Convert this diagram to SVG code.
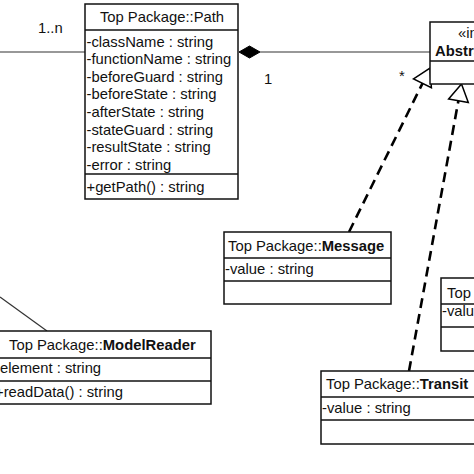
<svg xmlns="http://www.w3.org/2000/svg" width="474" height="474" viewBox="0 0 474 474">
<style>
.box{fill:#fff;stroke:#111;stroke-width:1.5}
.div{stroke:#111;stroke-width:1.5}
.t{font-family:"Liberation Sans",Arial,sans-serif;font-size:14.8px;fill:#111}
.b{font-weight:bold}
.assoc{stroke:#333;stroke-width:1.2;fill:none}
.dash{stroke:#000;stroke-width:2.6;fill:none;stroke-dasharray:10 6}
.tri{fill:#fff;stroke:#000;stroke-width:1.5}
</style>
<rect width="474" height="474" fill="#fff"/>
<g id="connectors">
<line class="assoc" x1="0" y1="52" x2="85" y2="52"/>
<text class="t" x="38" y="33">1..n</text>
<line class="assoc" x1="260" y1="52" x2="430" y2="52"/>
<polygon points="239,52 249.5,46 260,52 249.5,58" fill="#000" stroke="#000" stroke-width="1"/>
<text class="t" x="264" y="84">1</text>
<text class="t" x="399" y="81">*</text>
<line class="assoc" x1="47" y1="331" x2="0" y2="297"/>
<line class="dash" x1="349" y1="232" x2="422.5" y2="83.3"/>
<polygon class="tri" points="430,68 431.4,87.7 413.5,78.8"/>
<line class="dash" x1="409" y1="371" x2="458.4" y2="100.7"/>
<polygon class="tri" points="461.5,84 468.3,102.5 448.6,98.9"/>
</g>
<g id="path">
<rect class="box" x="85" y="4" width="153" height="195"/>
<line class="div" x1="85" y1="30" x2="238" y2="30"/>
<line class="div" x1="85" y1="174" x2="238" y2="174"/>
<text class="t" x="162" y="22" text-anchor="middle">Top Package::Path</text>
<text class="t" x="86.5" y="46.5">-className : string</text>
<text class="t" x="86.5" y="64.1">-functionName : string</text>
<text class="t" x="86.5" y="81.7">-beforeGuard : string</text>
<text class="t" x="86.5" y="99.3">-beforeState : string</text>
<text class="t" x="86.5" y="116.9">-afterState : string</text>
<text class="t" x="86.5" y="134.5">-stateGuard : string</text>
<text class="t" x="86.5" y="152.1">-resultState : string</text>
<text class="t" x="86.5" y="169.7">-error : string</text>
<text class="t" x="86.5" y="191.5">+getPath() : string</text>
</g>
<g id="abstract">
<rect class="box" x="430" y="22" width="60" height="62"/>
<line class="div" x1="430" y1="61" x2="490" y2="61"/>
<text class="t" x="458" y="37.5">«interface»</text>
<text class="t b" x="435" y="55.5">Abstract</text>
</g>
<g id="message">
<rect class="box" x="224" y="232" width="167" height="72"/>
<line class="div" x1="224" y1="258" x2="391" y2="258"/>
<line class="div" x1="224" y1="281" x2="391" y2="281"/>
<text class="t" x="228" y="250.5">Top Package::<tspan class="b">Message</tspan></text>
<text class="t" x="225" y="273.5">-value : string</text>
</g>
<g id="right-class">
<rect class="box" x="441" y="278" width="60" height="73"/>
<line class="div" x1="441" y1="304" x2="501" y2="304"/>
<line class="div" x1="441" y1="327" x2="501" y2="327"/>
<text class="t" x="447" y="297.5">Top Package::</text>
<text class="t" x="442" y="315.5">-value : string</text>
</g>
<g id="transit">
<rect class="box" x="321" y="371" width="170" height="73"/>
<line class="div" x1="321" y1="397" x2="491" y2="397"/>
<line class="div" x1="321" y1="420" x2="491" y2="420"/>
<text class="t" x="326" y="388.5">Top Package::<tspan class="b">Transit</tspan></text>
<text class="t" x="322" y="412.5">-value : string</text>
</g>
<g id="modelreader">
<rect class="box" x="-10" y="331" width="221" height="73"/>
<line class="div" x1="-10" y1="358" x2="211" y2="358"/>
<line class="div" x1="-10" y1="381" x2="211" y2="381"/>
<text class="t" x="9" y="349.5">Top Package::<tspan class="b">ModelReader</tspan></text>
<text class="t" x="-5" y="372.5">-element : string</text>
<text class="t" x="-5" y="396.5">+readData() : string</text>
</g>
</svg>
